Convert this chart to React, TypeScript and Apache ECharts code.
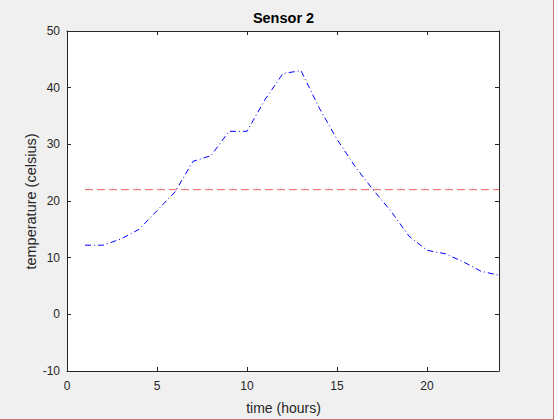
import { useRef, useEffect } from 'react'
import * as echarts from 'echarts'

// ── data ──────────────────────────────────────────────────────────
const hours = [1, 2, 3, 4, 5, 6, 7, 8, 9, 10, 11, 12, 13, 14, 15, 16, 17, 18, 19, 20, 21, 22, 23, 24]
const temps = [12.2, 12.2, 13.3, 15.0, 18.3, 21.6, 27.0, 28.0, 32.3, 32.3, 37.9, 42.5, 43.0, 36.5, 30.9, 26.1, 22.0, 18.2, 13.8, 11.3, 10.7, 9.3, 7.6, 6.9]
const threshold = 22
const thresholdSpan = [1, 24]

const xTicks = { min: 0, max: 24, interval: 5 }
const yTicks = { min: -10, max: 50, interval: 10 }

const FONT = '"Liberation Sans", Arial, Helvetica, sans-serif'
const AXIS = '#262626'

function buildOption(): echarts.EChartsOption {
  const tempData = hours.map((h, i) => [h, temps[i]])
  const threshData = thresholdSpan.map((h) => [h, threshold])

  const xBase = {
    type: 'value', ...xTicks,
    axisLine: { show: true, onZero: false, lineStyle: { color: AXIS, width: 1 } },
    axisTick: { show: true, inside: true, length: 4, lineStyle: { color: AXIS } },
    splitLine: { show: false },
  }
  const yBase = {
    type: 'value', ...yTicks,
    axisLine: { show: true, onZero: false, lineStyle: { color: AXIS, width: 1 } },
    axisTick: { show: true, inside: true, length: 4, lineStyle: { color: AXIS } },
    splitLine: { show: false },
  }

  return {
    animation: false,
    backgroundColor: '#f0f0f0',
    grid: {
      left: 67, right: 54, top: 31, bottom: 48,
      show: true, backgroundColor: '#ffffff', borderWidth: 0,
      containLabel: false,
      outerBoundsMode: 'none',
    },
    xAxis: [
      {
        ...xBase, position: 'bottom',
        axisLabel: {
          color: AXIS, fontSize: 12, fontFamily: FONT, margin: 9,
          showMaxLabel: false,
        },
      },
      { ...xBase, position: 'top', axisLabel: { show: false } },
    ],
    yAxis: [
      {
        ...yBase, position: 'left',
        axisLabel: { color: AXIS, fontSize: 12, fontFamily: FONT, margin: 7 },
      },
      { ...yBase, position: 'right', axisLabel: { show: false } },
    ],
    graphic: [
      {
        type: 'text', x: 283.5, y: 18,
        style: {
          text: 'Sensor 2', fill: '#000000',
          font: `bold 14.5px ${FONT}`,
          align: 'center', verticalAlign: 'middle',
        },
      },
      {
        type: 'text', x: 283.5, y: 408,
        style: {
          text: 'time (hours)', fill: AXIS,
          font: `14px ${FONT}`,
          align: 'center', verticalAlign: 'middle',
        },
      },
      {
        type: 'text', x: 31, y: 201.5, rotation: Math.PI / 2,
        style: {
          text: 'temperature (celsius)', fill: AXIS,
          font: `14.5px ${FONT}`,
          align: 'center', verticalAlign: 'middle',
        },
      },
    ],
    series: [
      {
        name: 'threshold',
        type: 'line', xAxisIndex: 0, yAxisIndex: 0,
        data: threshData, symbol: 'none', silent: true,
        lineStyle: { color: '#f0625c', width: 1, type: [8, 4] },
      },
      {
        name: 'Sensor 2',
        type: 'line', xAxisIndex: 0, yAxisIndex: 0,
        data: tempData, symbol: 'none',
        lineStyle: { color: '#0000ff', width: 1, type: [6, 3, 1, 3] },
      },
    ],
  } as echarts.EChartsOption
}

export default function App() {
  const containerRef = useRef<HTMLDivElement>(null)

  useEffect(() => {
    if (!containerRef.current) return
    const chart = echarts.init(containerRef.current, undefined, { renderer: 'svg' })
    chart.setOption(buildOption())
    return () => {
      chart.dispose()
    }
  }, [])

  return (
    <div
      style={{
        position: 'fixed', left: 0, top: 0,
        width: 554, height: 420, boxSizing: 'border-box',
        background: '#f0f0f0',
        borderRight: '1px solid #c97575',
        borderBottom: '1px solid #c97575',
      }}
    >
      <div ref={containerRef} style={{ width: 553, height: 419 }} />
    </div>
  )
}
